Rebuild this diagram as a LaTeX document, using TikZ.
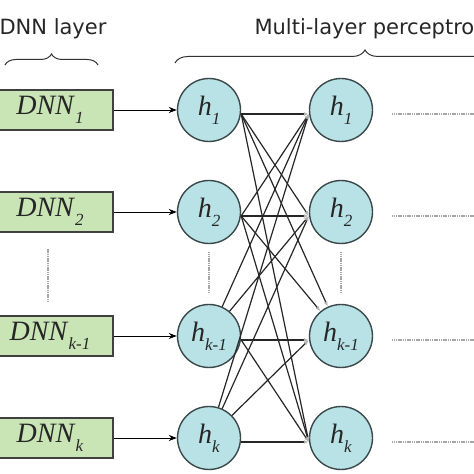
\documentclass[tikz,border=0pt]{standalone}
\usepackage{fontspec}
\setmainfont{Liberation Serif}
\newfontfamily\headfont{DejaVu Sans}
\usetikzlibrary{positioning,arrows.meta,decorations.pathreplacing}
\definecolor{dnnfill}{RGB}{201,228,181}
\definecolor{hidfill}{RGB}{185,226,231}
\definecolor{hidline}{RGB}{58,72,74}
\newcommand{\lab}[2]{\textit{#1}\raisebox{-9pt}{\fontsize{17}{17}\selectfont\textit{#2}}}

\begin{document}
\begin{tikzpicture}[x=1pt,y=1pt,node distance=102pt,
    dnn/.style={draw=black!75,fill=dnnfill,line width=1.3pt,minimum width=126pt,minimum height=40pt,inner sep=0pt,font=\fontsize{28}{28}\selectfont,text=black!85},
    hid/.style={circle,draw=hidline,fill=hidfill,line width=1.4pt,minimum size=63pt,inner sep=0pt,font=\fontsize{28}{28}\selectfont,text=black!85},
    feed/.style={-{Stealth[length=8pt,width=6pt]},line width=0.9pt},
    link/.style={-{Latex[length=5pt,width=4pt,color=gray!60]},draw=black!85,line width=1.2pt},
    gap/.style={gray!70,line width=1.4pt,dash pattern=on 1.2pt off 0.6pt},
    brc/.style={decorate,line width=1pt,black!80},
    head/.style={font=\headfont\fontsize{21}{24}\selectfont,text=black!85}]
        \useasboundingbox (0,0) rectangle (474,474);
        \node[dnn](D1) at (50,364) {\lab{DNN}{1}};
        \node[dnn](D2) [below of=D1] {\lab{DNN}{2}};
        \node[dnn](D3) [below of=D2,node distance=124pt] {\lab{DNN}{k-1}};
        \node[dnn](D4) [below of=D3] {\lab{DNN}{k}};
        \node[hid](H1) [right of=D1,node distance=159pt] {\lab{h}{1}};
        \node[hid](H2) [right of=D2,node distance=159pt] {\lab{h}{2}};
        \node[hid](H3) [right of=D3,node distance=159pt] {\lab{h}{k-1}};
        \node[hid](H4) [right of=D4,node distance=159pt] {\lab{h}{k}};
        \node[hid](O1) [right of=H1,node distance=132pt] {\lab{h}{1}};
        \node[hid](O2) [right of=H2,node distance=132pt] {\lab{h}{2}};
        \node[hid](O3) [right of=H3,node distance=132pt] {\lab{h}{k-1}};
        \node[hid](O4) [right of=H4,node distance=132pt] {\lab{h}{k}};
        \node[head,anchor=base](T1) at (53,439) {DNN layer};
        \node[head,anchor=base west](T2) at (251,439) {Multi-layer perceptron};
        \draw[brc,decoration={brace,amplitude=11pt}] (5,409) -- (98,409);
        \draw[brc,decoration={brace,amplitude=13pt}] (175,411) -- (555,411);
        \foreach \i in {1,...,4} {
            \coordinate (H\i e) at ([yshift=-4pt]H\i.east);
            \coordinate (O\i w) at ([yshift=-4pt]O\i.west);
            \draw[feed] (D\i) -- (H\i);
            \draw[gap] ([xshift=19pt,yshift=-4pt]O\i.east) -- ++(90,0);
        }
        \foreach \i in {1,...,4}
            \foreach \j in {1,...,4} {
                \def\s{H\i e}\def\e{O\j w}
                \ifnum\i>2 \ifnum\j<\i \def\s{H\i}\fi\fi
                \ifnum\i<3 \ifnum\j=3 \def\e{O\j}\fi\fi
                \draw[link] (\s) -- (\e);
            }
        \draw[gap] ([xshift=-2pt,yshift=-16pt]D2.south) -- ([xshift=-2pt,yshift=14pt]D3.north);
        \draw[gap] ([yshift=-8pt]H2.south) -- ([yshift=11pt]H3.north);
        \draw[gap] ([yshift=-8pt]O2.south) -- ([yshift=11pt]O3.north);
    \end{tikzpicture}
\end{document}
